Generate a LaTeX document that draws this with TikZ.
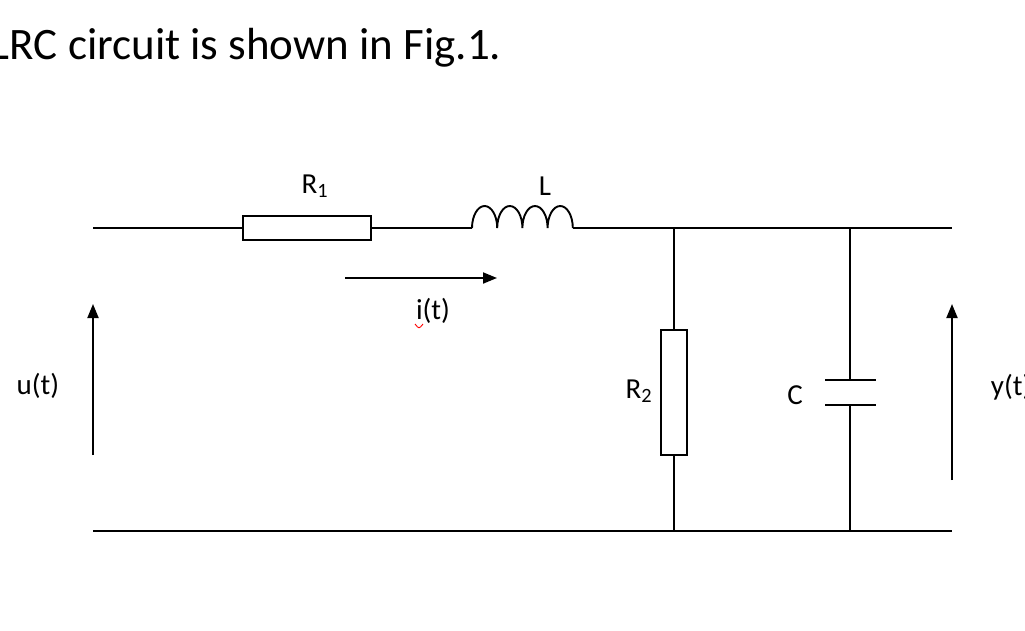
\documentclass[tikz,border=0pt]{standalone}
\usepackage{fontspec}
\setmainfont{Carlito}
\usetikzlibrary{arrows.meta}
\begin{document}
\begin{tikzpicture}[x=1pt,y=-1pt,line width=1.9pt,
  lbl/.style={font=\fontsize{29}{34}\selectfont,inner sep=0pt},
  comp/.style={draw,fill=white,line width=1.9pt},
  arr/.style={-{Triangle[length=14pt,width=11pt]}}]
\useasboundingbox (0,0) rectangle (1025,630);
\clip (0,0) rectangle (1025,630);
\node[anchor=base west,inner sep=0pt,font=\fontsize{45}{52}\selectfont] (title) at (-10,59) {LRC circuit is shown in Fig.1.};
\coordinate (a) at (93,228);
\coordinate (b) at (952,228);
\coordinate (c) at (93,531);
\coordinate (d) at (952,531);
\coordinate (lstart) at (472,228);
\coordinate (lend) at (573,228);
\coordinate (r2t) at (674,228);
\coordinate (r2b) at (674,531);
\coordinate (ct) at (850,228);
\coordinate (cb) at (850,531);
\draw (a) -- (lstart);
\draw (lend) -- (b);
\draw (c) -- (d);
\node[comp,minimum width=128pt,minimum height=24pt] (R1) at (307,228) {};
\draw (lstart) arc(180:360:12.6 and 22) arc(180:360:12.6 and 22) arc(180:360:12.6 and 22) arc(180:360:12.6 and 22);
\node[lbl] (R1l) at (315,186) {R\textsubscript{1}};
\node[lbl] (Ll) at (545,186) {L};
\draw (r2t) -- (r2b);
\node[comp,minimum width=26pt,minimum height=125pt] (R2) at (674,392.5) {};
\node[lbl] (R2l) at (639,391) {R\textsubscript{2}};
\coordinate (p1) at (850,380);
\coordinate (p2) at (850,405);
\draw (ct) -- (p1) (p2) -- (cb);
\draw (825,380) -- (876,380) (825,405) -- (876,405);
\node[lbl] (Cl) at (795,395) {C};
\coordinate (it0) at (345,278);
\coordinate (it1) at (497,278);
\draw[arr] (it0) -- (it1);
\node[lbl] (il) at (433,311) {i(t)};
\draw[red,line width=0.9pt] (415,324) .. controls (419,329) .. (423,324);
\coordinate (u0) at (93,455);
\coordinate (u1) at (93,304);
\draw[arr] (u0) -- (u1);
\node[lbl] (ul) at (38,386) {u(t)};
\coordinate (y0) at (952,480);
\coordinate (y1) at (952,304);
\draw[arr] (y0) -- (y1);
\node[lbl,anchor=west] (yl) at (990,387) {y(t)};
\end{tikzpicture}
\end{document}
